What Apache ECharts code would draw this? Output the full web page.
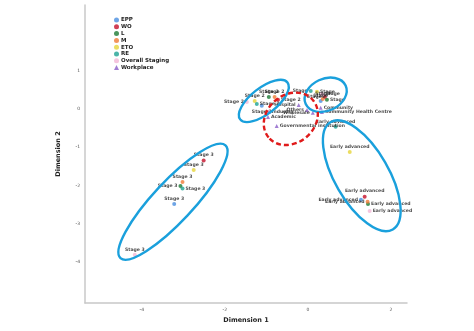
<!DOCTYPE html>
<html>
<head>
<meta charset="utf-8">
<script src="https://cdn.jsdelivr.net/npm/echarts@6/dist/echarts.min.js"></script>
<style>
  html, body { margin: 0; padding: 0; background: #fff; }
  #chart { width: 474px; height: 331px; }
</style>
</head>
<body>
<div id="chart"></div>
<script>
// stages, one point per stage in every staging series: Stage 3, Stage 2, Stage 1, Early advanced
let stageNames = ['Stage 3', 'Stage 2', 'Stage', 'Early advanced'];

// [dimension 1, dimension 2]
let epp     = [[-3.22, -2.49], [-1.11, 0.08], [0.31, 0.21], [1.28, -2.38]];
let wo      = [[-2.51, -1.35], [-0.72, 0.24], [0.41, 0.31], [1.37, -2.30]];
let lData   = [[-3.07, -2.02], [-0.94, 0.31], [0.46, 0.24], [1.45, -2.49]];
let mData   = [[-3.02, -1.91], [-0.80, 0.31], [0.36, 0.26], [1.44, -2.43]];
let eto     = [[-2.75, -1.60], [-1.28, 0.21], [0.22, 0.45], [1.01, -1.13]];
let re      = [[-3.02, -2.08], [-1.23, 0.13], [0.07, 0.47], [0.67, -0.47]];
let overall = [[-4.17, -3.82], [-1.47, 0.18], [0.34, 0.39], [1.49, -2.67]];

let workplaceNames = ['Hospital', 'Industry', 'Academic', 'Others', 'Wholesale',
  'Governmental institution', 'Community', 'Community Health Centre'];
let workplace = [[-0.22, 0.10], [-0.94, -0.08], [-0.96, -0.21], [-0.02, -0.03],
  [0.12, -0.10], [-0.75, -0.45], [0.31, 0.03], [0.34, -0.08]];

let xTicks = [-4, -2, 0, 2];
let yTicks = [1, 0, -1, -2, -3, -4];

// where each point label sits (layout only)
let labelSide = {
  'EPP': ['top', 'bottom', 'top', 'left'],
  'WO': ['top', 'right', 'left', 'top'],
  'L': ['left', 'top', 'right', 'right'],
  'M': ['top', 'top', 'top', 'left'],
  'ETO': ['top', 'top', 'right', 'top'],
  'RE': ['right', 'right', 'left', 'top'],
  'Overall Staging': ['top', 'left', 'right', 'right'],
  'Workplace': ['left', 'right', 'right', 'left', 'left', 'right', 'right', 'right']
};

// hand drawn groupings: centre in data units, radii in px, tilt in degrees (anticlockwise)
let rings = [
  { c: [-3.25, -2.43], rx: 77, ry: 20, tilt: 47, color: '#1aa0dc', dash: null },
  { c: [1.30, -1.75], rx: 62, ry: 27, tilt: -60, color: '#1aa0dc', dash: null },
  { c: [-1.06, 0.21], rx: 30, ry: 13, tilt: 38, color: '#1aa0dc', dash: null },
  { c: [0.43, 0.37], rx: 22, ry: 16, tilt: 25, color: '#1aa0dc', dash: null },
  { c: [-0.41, -0.26], rx: 29, ry: 24, tilt: 40, color: '#e01b1b', dash: [5, 3] }
];

let font = 'DejaVu Sans';

function stageSeries(name, pts, color, symbol) {
  let sides = labelSide[name];
  return {
    name: name,
    type: 'scatter',
    symbol: symbol || 'circle',
    symbolSize: 4,
    itemStyle: { color: color },
    label: {
      show: true,
      fontSize: 4.6,
      fontWeight: 'bold',
      fontFamily: font,
      color: '#1a1a1a',
      distance: 1,
      formatter: p => p.data.tag
    },
    data: pts.map((p, i) => ({
      value: p,
      tag: name === 'Workplace' ? workplaceNames[i] : stageNames[i],
      label: { position: sides[i] }
    })),
    z: 3
  };
}

let chart = echarts.init(document.getElementById('chart'));

chart.setOption({
  animation: false,
  backgroundColor: '#fff',
  grid: { left: 85, right: 67, top: 5, bottom: 28 },
  legend: {
    orient: 'vertical',
    left: 109,
    top: 12,
    itemWidth: 5,
    itemHeight: 5,
    itemGap: 0.8,
    textStyle: { fontSize: 5.5, fontWeight: 'bold', fontFamily: font, color: '#222', padding: [0, 0, 0, -3] },
    data: [
      { name: 'EPP', icon: 'circle' },
      { name: 'WO', icon: 'circle' },
      { name: 'L', icon: 'circle' },
      { name: 'M', icon: 'circle' },
      { name: 'ETO', icon: 'circle' },
      { name: 'RE', icon: 'circle' },
      { name: 'Overall Staging', icon: 'circle' },
      { name: 'Workplace', icon: 'triangle' }
    ]
  },
  xAxis: {
    type: 'value',
    min: -5.37,
    max: 2.39,
    name: 'Dimension 1',
    nameLocation: 'middle',
    nameGap: 13,
    nameTextStyle: { fontSize: 6.5, fontWeight: 'bold', fontFamily: font, color: '#222' },
    axisLine: { show: true, onZero: false, lineStyle: { color: '#c8c8c8', width: 1.5 } },
    axisTick: { show: false },
    splitLine: { show: false },
    axisLabel: { customValues: xTicks, fontSize: 4.5, fontFamily: font, color: '#555', margin: 4 }
  },
  yAxis: {
    type: 'value',
    min: -5.08,
    max: 2.72,
    name: 'Dimension 2',
    nameLocation: 'middle',
    nameGap: 23,
    nameTextStyle: { fontSize: 6.5, fontWeight: 'bold', fontFamily: font, color: '#222' },
    axisLine: { show: true, onZero: false, lineStyle: { color: '#c8c8c8', width: 1.5 } },
    axisTick: { show: false },
    splitLine: { show: false },
    axisLabel: { customValues: yTicks, fontSize: 4.5, fontFamily: font, color: '#555', margin: 5 }
  },
  series: [
    stageSeries('EPP', epp, '#4a8ee0'),
    stageSeries('WO', wo, '#c4102a'),
    stageSeries('L', lData, '#1d7a34'),
    stageSeries('M', mData, '#f07a36'),
    stageSeries('ETO', eto, '#e6d43a'),
    stageSeries('RE', re, '#1fa393'),
    stageSeries('Overall Staging', overall, '#f2b6d6'),
    stageSeries('Workplace', workplace, '#8a5ec8', 'triangle'),
    {
      // the rings drawn around the groups
      type: 'custom',
      silent: true,
      z: 5,
      data: rings.map(r => r.c),
      renderItem: function (params, api) {
        let r = rings[params.dataIndex];
        let c = api.coord([api.value(0), api.value(1)]);
        return {
          type: 'ellipse',
          x: c[0],
          y: c[1],
          rotation: r.tilt * Math.PI / 180,
          shape: { cx: 0, cy: 0, rx: r.rx, ry: r.ry },
          style: { fill: 'none', stroke: r.color, lineWidth: 2.4, lineDash: r.dash }
        };
      }
    }
  ]
});
</script>
</body>
</html>
